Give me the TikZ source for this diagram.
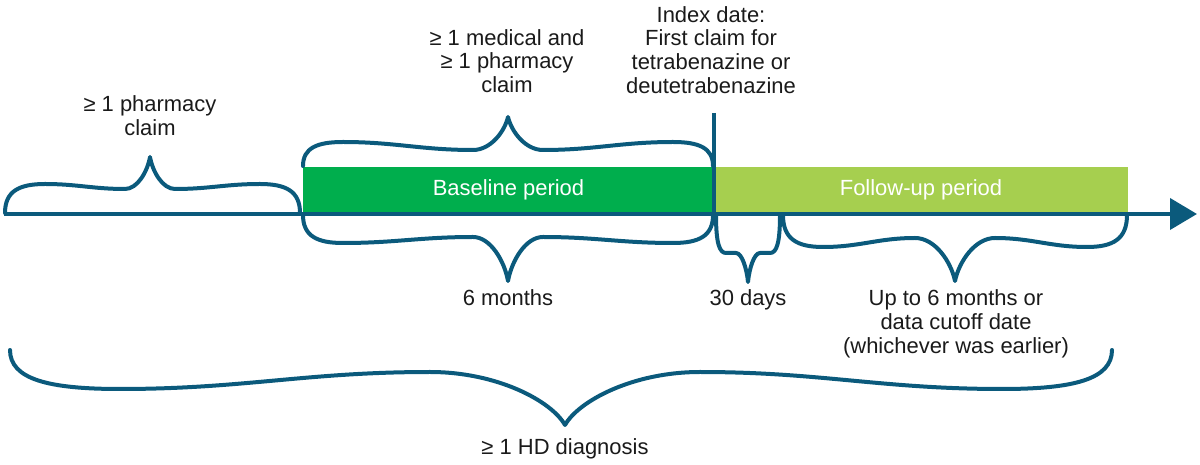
\documentclass[tikz,border=0pt]{standalone}
\usepackage{fontspec}
\setmainfont{Liberation Sans}
\usetikzlibrary{arrows.meta}
\definecolor{teal}{HTML}{0B5A7C}
\definecolor{basegreen}{HTML}{00AE4D}
\definecolor{followgreen}{HTML}{A6CF4F}
\definecolor{txt}{HTML}{1A1A1A}
\newcommand{\curlybr}[9]{%
 % #1 a, #2 b, #3 y end, #4 y flat, #5 x tip, #6 y tip, #7 shoulder width, #8 neck half-width, #9 y neck
 \draw[brc] (#1,#3) .. controls (#1,{#3+0.75*(#4-#3)}) and ({#1+0.35*#7},#4) .. ({#1+#7},#4)
  .. controls ({#1+#7+0.4*(#5-#8-#1-#7)},#4) and ({#5-#8-0.4*(#5-#8-#1-#7)},#9) .. ({#5-#8},#9)
  .. controls ({#5-0.5*#8},#9) and ({#5-0.1*#8},{#6+0.45*(#9-#6)}) .. (#5,#6)
  .. controls ({#5+0.1*#8},{#6+0.45*(#9-#6)}) and ({#5+0.5*#8},#9) .. ({#5+#8},#9)
  .. controls ({#5+#8+0.4*(#2-#7-#5-#8)},#9) and ({#2-#7-0.4*(#2-#7-#5-#8)},#4) .. ({#2-#7},#4)
  .. controls ({#2-0.35*#7},#4) and (#2,{#3+0.75*(#4-#3)}) .. (#2,#3);
}
\tikzset{
  brc/.style={draw=teal, line width=0.08cm, line cap=round, line join=round},
  axisline/.style={draw=teal, line width=0.08cm},
  lbl/.style={text=txt, font=\fontsize{12.5pt}{13.5pt}\selectfont, align=center, inner sep=0pt},
  period/.style={inner sep=0pt, text=white, font=\fontsize{12.5pt}{13.5pt}\selectfont, minimum height=0.92cm},
}
\begin{document}
\begin{tikzpicture}[x=0.02cm,y=-0.02cm]
\useasboundingbox (0,0) rectangle (1200,465);
% periods
\node[period, fill=basegreen, minimum width=8.22cm] (baseline) at (508.5,190) {Baseline period};
\node[period, fill=followgreen, minimum width=8.28cm] (followup) at (921,190) {Follow-up period};
% axis
\coordinate (ax0) at (4,214);
\coordinate (ax1) at (1197,214);
\draw[axisline, -{Triangle[length=0.54cm,width=0.62cm]}] (ax0) -- (ax1);
% index line
\coordinate (idxtop) at (714,113);
\coordinate (idxbot) at (714,214);
\draw[axisline] (idxtop) -- (idxbot);
% braces
\curlybr{5}{300}{213}{184}{150}{157}{40}{25}{189}
\curlybr{303}{713}{166}{142}{508}{117}{40}{35}{150}
\curlybr{303}{713}{215}{243}{508}{281}{40}{35}{237}
\curlybr{716}{780}{215}{253}{748}{282}{10}{12}{253}
\curlybr{783}{1127}{215}{247}{955}{281}{40}{40}{238}
\curlybr{10}{1112}{350}{389}{565}{425}{110}{135}{372}
% labels
\node[lbl] (lphar) at (150,116) {≥ 1 pharmacy\\claim};
\node[lbl] (lmed) at (507,61) {≥ 1 medical and\\≥ 1 pharmacy\\claim};
\node[lbl] (lidx) at (711,50) {Index date:\\First claim for\\tetrabenazine or\\deutetrabenazine};
\node[lbl, anchor=base] (l6m) at (508,306) {6 months};
\node[lbl, anchor=base] (l30) at (748,306) {30 days};
\node[lbl] (lup) at (956,324) {Up to 6 months or\\data cutoff date\\(whichever was earlier)};
\node[lbl, anchor=base] (lhd) at (565,455) {≥ 1 HD diagnosis};
\end{tikzpicture}
\end{document}
